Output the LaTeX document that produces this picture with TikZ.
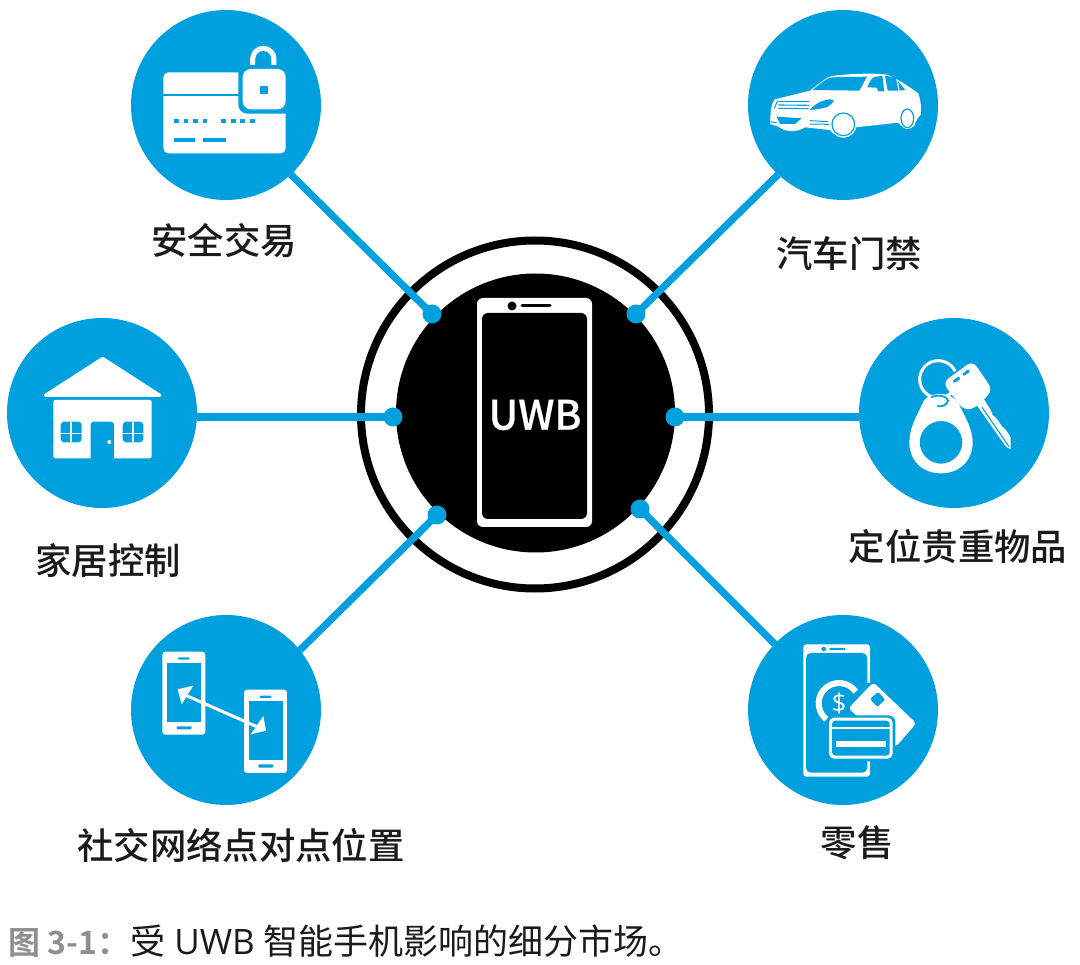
\documentclass[tikz,border=0pt]{standalone}
\usepackage{fontspec}
\setmainfont{Open Sans}
\newfontfamily\cjk{Noto Sans CJK SC}
\newfontfamily\cjkm{Noto Sans CJK SC Medium}
\newfontfamily\cjkb{Noto Sans CJK SC Bold}
\newfontfamily\uwbfont[FakeBold=0.6]{Noto Sans CJK SC Medium}
\definecolor{uwbblue}{HTML}{00A0DF}
\definecolor{capgray}{HTML}{8F8F8F}
\definecolor{labelink}{HTML}{1A1A1A}
\tikzset{
  hub/.style={circle,fill=uwbblue,minimum size=190pt,inner sep=0pt,outer sep=0pt},
  portdot/.style={circle,fill=uwbblue,minimum size=19pt,inner sep=0pt,outer sep=0pt},
  link/.style={draw=uwbblue,line width=7.2pt},
  lab/.style={font=\cjkm\fontsize{36.4}{40}\selectfont,text=labelink,inner sep=0pt},
}
\begin{document}
\begin{tikzpicture}[x=1pt,y=-1pt]
\useasboundingbox (0,0) rectangle (1080,965);
% central device
\node[circle,draw=black,line width=8pt,minimum size=348pt,inner sep=0pt,outer sep=0pt] (ring) at (535,414.5) {};
\node[circle,fill=black,minimum size=279pt,inner sep=0pt,outer sep=0pt] (core) at (535.5,413) {};
\fill[white,rounded corners=6pt] (477,298) rectangle (592,527);
\fill[black,rounded corners=6pt] (482,313) rectangle (587,519);
\fill[black] (512,306) circle (4.5);
\draw[black,line width=3pt,line cap=round] (522,306) -- (550,306);
\node[text=white,font=\uwbfont\fontsize{40.5}{46}\selectfont,inner sep=0pt] (uwb) at (535,415) {UWB};
% hubs
\node[hub] (tl) at (226,105) {};
\node[hub] (tr) at (843,105) {};
\node[hub] (ml) at (102,413) {};
\node[hub] (mr) at (954,413) {};
\node[hub] (bl) at (226,710) {};
\node[hub] (br) at (843,710) {};
% dots
\node[portdot] (d1) at (432,314) {};
\node[portdot] (d2) at (636,314) {};
\node[portdot] (d3) at (393,417) {};
\node[portdot] (d4) at (675,417) {};
\node[portdot] (d5) at (437,515) {};
\node[portdot] (d6) at (640,509) {};
% connectors
\draw[link] (tl.313) -- (d1.center);
\draw[link] (tr.227) -- (d2.center);
\draw[link] (ml.east |- d3.center) -- (d3.center);
\draw[link] (mr.west |- d4.center) -- (d4.center);
\draw[link] (bl.39) -- (d5.center);
\draw[link] (br.136) -- (d6.center);
% labels
\node[lab] (l1) at (224,241) {安全交易};
\node[lab] (l2) at (849,254) {汽车门禁};
\node[lab] (l3) at (108,561) {家居控制};
\node[lab] (l4) at (958,547) {定位贵重物品};
\node[lab] (l5) at (241,845) {社交网络点对点位置};
\node[lab] (l6) at (857,843) {零售};
% caption
\node[anchor=base west,inner sep=0pt,text=capgray,font=\cjkb\fontsize{32}{36}\selectfont] (capa) at (8,954) {图 3-1：};
\node[anchor=base west,inner sep=0pt,text=labelink,font=\fontsize{35}{38}\selectfont] (capb) at (130,954)
 {{\cjk 受} UWB {\cjk 智能手机影响的细分市场。}};
% --- card icon
\begin{scope}[shift={(120,0)},scale=0.33333]
\fill[white,rounded corners=5pt] (130,217) rectangle (497,460);
\fill[uwbblue] (130,281) rectangle (370,287);
\fill[uwbblue,rounded corners=9pt] (355,190) rectangle (520,341);
\fill[uwbblue] (497,190) rectangle (520,350);
\fill[white,rounded corners=8pt] (368,207) rectangle (497,328);
\draw[white,line width=5pt] (398,195) -- (398,177) arc[start angle=180,end angle=360,radius=32] -- (462,195);
\fill[uwbblue] (420,257) rectangle (443,281);
\foreach \a in {163,191,219,248,304,333,361,390} \fill[uwbblue] (\a,356) rectangle ++(14,12);
\fill[uwbblue] (163,415) rectangle (225,427);
\fill[uwbblue] (250,415) rectangle (318,427);
\end{scope}
% --- car icon
\begin{scope}[shift={(730,0)},scale=0.33333]
\fill[white,line join=round] (120,372) -- (122,335) .. controls (125,315) and (128,305) .. (135,298) -- (240,272) .. controls (265,252) and (285,235) .. (305,228) .. controls (350,222) and (430,218) .. (470,224) .. controls (495,232) and (530,255) .. (565,280) .. controls (572,300) and (575,325) .. (572,345) .. controls (565,350) and (558,360) .. (553,378) .. controls (540,390) and (520,388) .. (505,368) -- (375,382) .. controls (365,405) and (325,425) .. (300,390) -- (225,382) .. controls (205,395) and (170,400) .. (145,380) -- cycle;
\fill[uwbblue] (248,270) .. controls (270,250) and (290,235) .. (305,232) -- (411,230) -- (388,272) -- cycle;
\fill[uwbblue] (412,262) .. controls (418,245) and (425,234) .. (435,230) -- (457,228) -- (463,274) -- (445,274) -- (440,263) -- cycle;
\fill[uwbblue] (465,227) -- (498,233) -- (505,272) -- (473,272) -- cycle;
\fill[uwbblue] (504,243) -- (526,270) -- (509,272) -- cycle;
\draw[uwbblue,line width=1.1pt] (145,305) -- (238,305) (145,315) -- (238,316) (145,325) -- (236,326);
\fill[uwbblue] (240,330) .. controls (250,315) and (275,300) .. (300,298) -- (312,302) .. controls (305,312) and (298,318) .. (290,322) -- (260,328) -- cycle;
\fill[uwbblue] (140,350) -- (215,355) -- (195,372) -- (150,372) -- cycle;
\draw[uwbblue,line width=1pt] (240,362) -- (295,365) (240,372) -- (298,373);
\draw[uwbblue,line width=1pt] (133,325) -- (143,302);
\draw[uwbblue,line width=1pt] (118,365) -- (140,368);
\fill[white] (340,373) circle (40);
\draw[uwbblue,line width=1.2pt] (340,373) circle (34);
\fill[white] (532,355) ellipse (24 and 32);
\draw[uwbblue,line width=1.2pt] (532,355) ellipse (19 and 28);
\end{scope}
% --- house icon
\begin{scope}[shift={(0,320)},scale=0.33333]
\fill[white,draw=white,line width=3pt,line join=round] (308,115) -- (480,226) -- (136,226) -- cycle;
\fill[white,rounded corners=2pt] (160,240) rectangle (455,415);
\fill[uwbblue,rounded corners=3pt] (272,305) rectangle (342,430);
\fill[white] (328,366) circle (6);
\fill[uwbblue,rounded corners=3.5pt] (182,305) rectangle (245,367);
\fill[uwbblue,rounded corners=3.5pt] (368,305) rectangle (430,367);
\draw[white,line width=1.6pt] (213,305) -- (213,367) (182,340) -- (245,340) (399,305) -- (399,367) (368,340) -- (430,340);
\end{scope}
% --- keys icon
\begin{scope}[shift={(860,320)},scale=0.33333]
\draw[white,line width=3pt] (235,178) circle (56);
\fill[white,even odd rule] (243,460) .. controls (185,460) and (148,420) .. (148,367) .. controls (148,320) and (175,280) .. (190,245) .. controls (200,222) and (265,205) .. (295,250) .. controls (312,285) and (338,325) .. (338,367) .. controls (338,420) and (300,460) .. (243,460) -- cycle (243,367) circle (64);
\draw[uwbblue,line width=1.8pt] (214,232) .. controls (235,222) and (262,228) .. (264,242) .. controls (262,255) and (245,262) .. (232,258);
% key head: gap from the ring on the upper edge only
\draw[uwbblue,line width=3pt,line cap=round] (246,190) -- (335,123);
\fill[white,rounded corners=7pt] (338,122) -- (398,210) -- (350,262) -- (312,272) -- (248,188) -- cycle;
\fill[white] (350,255) -- (372,238) -- (392,270) -- (398,285) -- (412,298) -- (425,318) -- (438,330) -- (452,352) -- (452,388) -- (438,380) -- cycle;
\draw[uwbblue,line width=1.1pt] (366,262) -- (447,380);
\draw[uwbblue,line width=3pt,line cap=round] (283,184) -- (296,175) (312,163) -- (325,153);
\end{scope}
% --- two phones icon
\begin{scope}[shift={(120,620)},scale=0.33333]
\fill[white,rounded corners=3pt] (127,95) rectangle (256,344);
\fill[uwbblue] (141,128) rectangle (243,307);
\fill[uwbblue,rounded corners=1pt] (174,112) rectangle (209,119);
\fill[uwbblue,rounded corners=1pt] (170,319) rectangle (215,328);
\fill[white,rounded corners=3pt] (372,209) rectangle (501,459);
\fill[uwbblue] (386,243) rectangle (488,421);
\fill[uwbblue,rounded corners=1pt] (419,227) rectangle (454,234);
\fill[uwbblue,rounded corners=1pt] (415,433) rectangle (460,443);
\draw[white,line width=3pt] (195,225) -- (415,322);
\fill[white] (173,208) -- (220,197) -- (185,253) -- cycle;
\fill[white] (430,288) -- (438,332) -- (392,343) -- cycle;
\end{scope}
% --- retail icon
\begin{scope}[shift={(745,620)},scale=0.33333]
\fill[white,rounded corners=3pt] (175,73) rectangle (375,470);
\fill[uwbblue,rounded corners=5pt] (183,99) rectangle (367,458);
\fill[uwbblue] (236,87) circle (7);
\fill[uwbblue,rounded corners=1pt] (252,84) rectangle (302,90);
\fill[uwbblue] (367,190) rectangle (380,415);
\draw[white,line width=6pt] (282,250) ++(128:61) arc[start angle=128,end angle=325,radius=61];
\node[text=white,font=\fontsize{26}{28}\selectfont,inner sep=0pt] (dollar) at (282,250) {\$};
\fill[white,rounded corners=3.5pt] (385,187) -- (514,310) -- (452,381) -- (400,345) -- (310,265) -- cycle;
\fill[uwbblue,rotate around={42:(398,238)},rounded corners=1.5pt] (382,222) rectangle (414,254);
\fill[uwbblue,rounded corners=7pt] (244,286) rectangle (451,424);
\fill[white,rounded corners=5pt] (252,293) rectangle (443,416);
\fill[uwbblue,rounded corners=3.5pt] (261,302) rectangle (434,407);
\fill[white] (255,320) rectangle (440,327);
\fill[white] (272,363) rectangle (422,381);
\end{scope}
\end{tikzpicture}
\end{document}
